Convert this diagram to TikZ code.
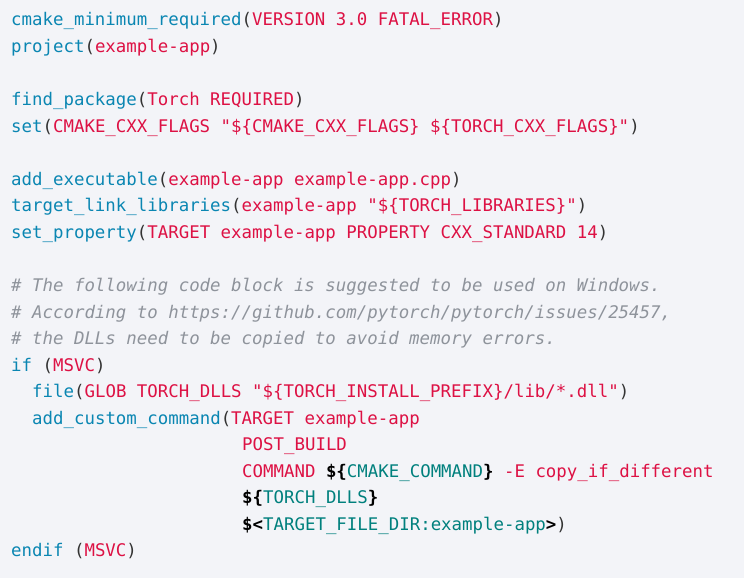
\documentclass[tikz,border=0pt]{standalone}
\usepackage{fontspec}
\setmonofont{DejaVu Sans Mono}
\definecolor{bgc}{HTML}{F3F4F8}
\definecolor{kwc}{HTML}{0A86B2}
\definecolor{rdc}{HTML}{DD1144}
\definecolor{tlc}{HTML}{00807D}
\definecolor{cmc}{HTML}{8E939B}
\definecolor{pnc}{HTML}{333333}
\newcommand{\Kw}[1]{\textcolor{kwc}{#1}}
\newcommand{\Rd}[1]{\textcolor{rdc}{#1}}
\newcommand{\Tl}[1]{\textcolor{tlc}{#1}}
\newcommand{\Bk}[1]{\textcolor{black}{\bfseries #1}}
\newcommand{\Cm}[1]{\textcolor{cmc}{\itshape #1}}
\newcommand{\Pn}[1]{\textcolor{pnc}{#1}}
\begin{document}
\begin{tikzpicture}[x=1pt,y=1pt,
  code/.style={anchor=base west,inner sep=0pt,font=\ttfamily\fontsize{17.4}{18}\selectfont}]
\fill[bgc] (0,0) rectangle (744,578);
\useasboundingbox (0,0) rectangle (744,578);
\def\ly#1{578-26-26.55*#1}
\node[code] (l0) at (11,{\ly{0}}) {\Kw{cmake\_minimum\_required}\Pn{(}\Rd{VERSION 3.0 FATAL\_ERROR}\Pn{)}};
\node[code] (l1) at (11,{\ly{1}}) {\Kw{project}\Pn{(}\Rd{example-app}\Pn{)}};
\node[code] (l3) at (11,{\ly{3}}) {\Kw{find\_package}\Pn{(}\Rd{Torch REQUIRED}\Pn{)}};
\node[code] (l4) at (11,{\ly{4}}) {\Kw{set}\Pn{(}\Rd{CMAKE\_CXX\_FLAGS "\$\{CMAKE\_CXX\_FLAGS\} \$\{TORCH\_CXX\_FLAGS\}"}\Pn{)}};
\node[code] (l6) at (11,{\ly{6}}) {\Kw{add\_executable}\Pn{(}\Rd{example-app example-app.cpp}\Pn{)}};
\node[code] (l7) at (11,{\ly{7}}) {\Kw{target\_link\_libraries}\Pn{(}\Rd{example-app "\$\{TORCH\_LIBRARIES\}"}\Pn{)}};
\node[code] (l8) at (11,{\ly{8}}) {\Kw{set\_property}\Pn{(}\Rd{TARGET example-app PROPERTY CXX\_STANDARD 14}\Pn{)}};
\node[code] (l10) at (11,{\ly{10}}) {\Cm{\# The following code block is suggested to be used on Windows.}};
\node[code] (l11) at (11,{\ly{11}}) {\Cm{\# According to https://github.com/pytorch/pytorch/issues/25457,}};
\node[code] (l12) at (11,{\ly{12}}) {\Cm{\# the DLLs need to be copied to avoid memory errors.}};
\node[code] (l13) at (11,{\ly{13}}) {\Kw{if} \Pn{(}\Rd{MSVC}\Pn{)}};
\node[code] (l14) at (32,{\ly{14}}) {\Kw{file}\Pn{(}\Rd{GLOB TORCH\_DLLS "\$\{TORCH\_INSTALL\_PREFIX\}/lib/*.dll"}\Pn{)}};
\node[code] (l15) at (32,{\ly{15}}) {\Kw{add\_custom\_command}\Pn{(}\Rd{TARGET example-app}};
\node[code] (l16) at (242,{\ly{16}}) {\Rd{POST\_BUILD}};
\node[code] (l17) at (242,{\ly{17}}) {\Rd{COMMAND} \Bk{\$\{}\Tl{CMAKE\_COMMAND}\Bk{\}} \Rd{-E copy\_if\_different}};
\node[code] (l18) at (242,{\ly{18}}) {\Bk{\$\{}\Tl{TORCH\_DLLS}\Bk{\}}};
\node[code] (l19) at (242,{\ly{19}}) {\Bk{\$<}\Tl{TARGET\_FILE\_DIR:example-app}\Bk{>}\Pn{)}};
\node[code] (l20) at (11,{\ly{20}}) {\Kw{endif} \Pn{(}\Rd{MSVC}\Pn{)}};
\end{tikzpicture}
\end{document}
